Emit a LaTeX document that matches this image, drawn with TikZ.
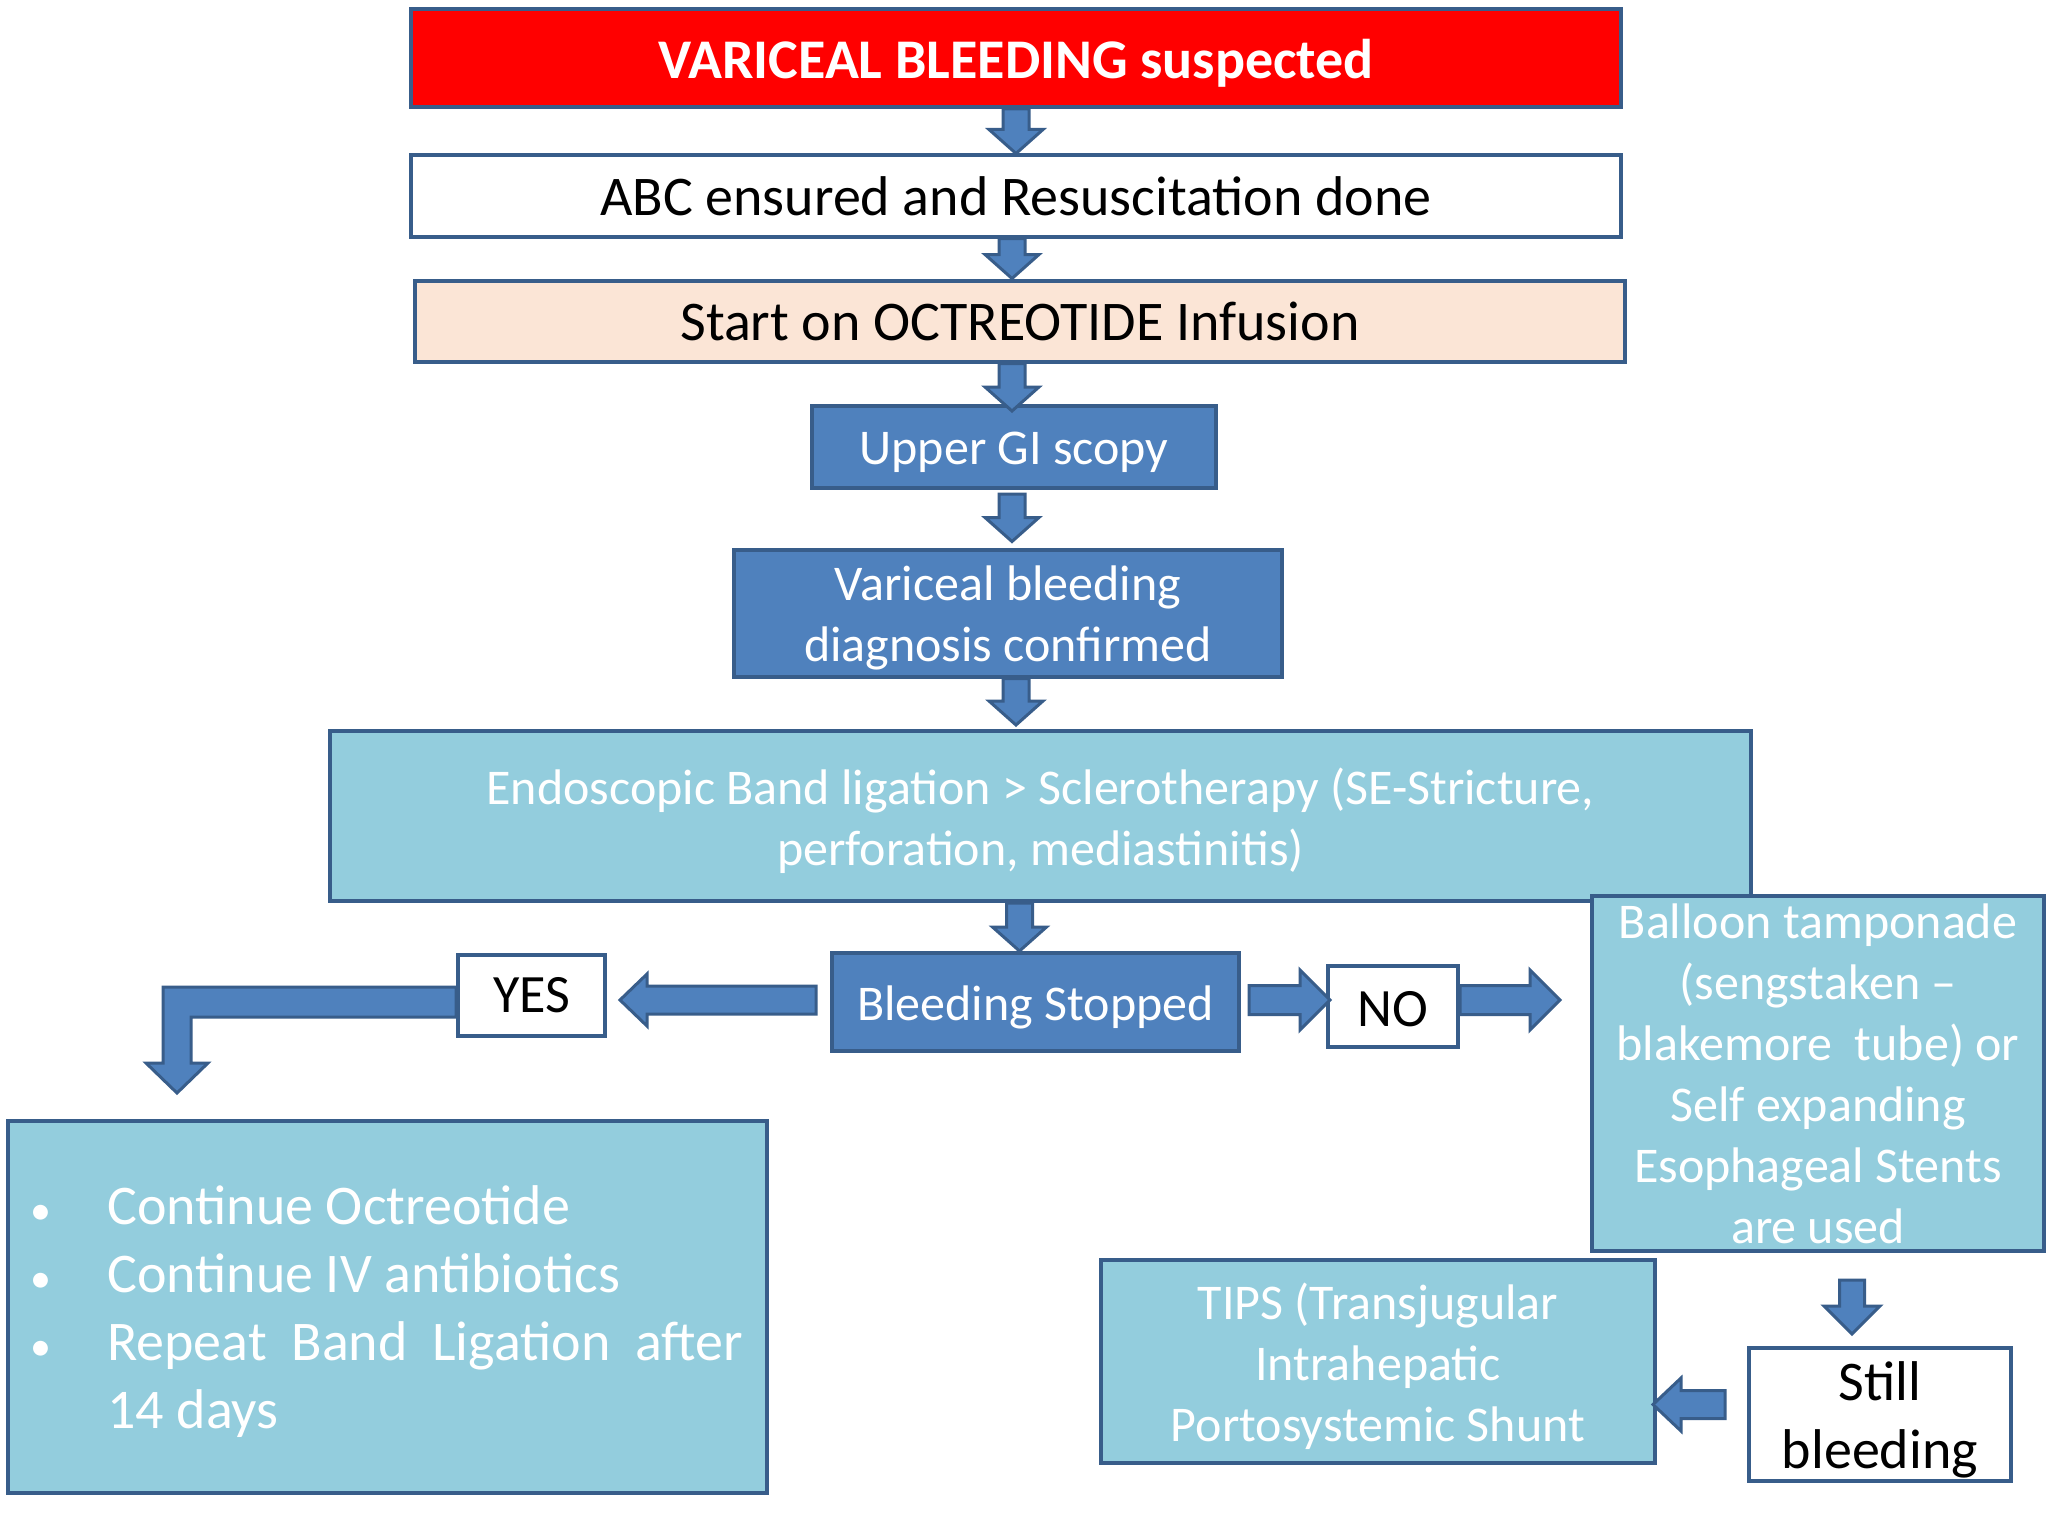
\documentclass[tikz,border=0pt]{standalone}
\usepackage{fontspec}
\setmainfont{Carlito}
\usetikzlibrary{calc}
\definecolor{bdr}{HTML}{385D8A}
\definecolor{blu}{HTML}{4F81BD}
\definecolor{aqua}{HTML}{93CDDD}
\definecolor{peach}{HTML}{FBE5D6}
\definecolor{redf}{HTML}{FF0000}
\tikzset{
  box/.style={draw=bdr, line width=4pt, inner sep=0pt},
  bigtxt/.style={font=\fontsize{56}{68}\selectfont},
  medtxt/.style={font=\fontsize{50}{61}\selectfont},
  yntxt/.style={font=\fontsize{54}{66}\selectfont},
  lt/.style={inner sep=0pt, align=center, yshift=-5pt},
  wlt/.style={lt, text=white, medtxt},
  blt/.style={lt, text=black},
  darkbox/.style={box, fill=blu},
  aquabox/.style={box, fill=aqua},
  whitebox/.style={box, fill=white},
  barr/.style={draw=bdr, fill=blu, line width=3pt, line join=miter},
}
% #1 shaft half width, #2 head half width, #3 head length, #4 start, #5 tip
\newcommand\blockarr[5]{%
  \coordinate (ba-s) at #4;
  \coordinate (ba-e) at #5;
  \coordinate (ba-h) at ($(ba-e)!#3pt!(ba-s)$);
  \draw[barr] ($(ba-s)!#1pt!90:(ba-e)$) -- ($(ba-h)!#1pt!-90:(ba-s)$)
    -- ($(ba-h)!#2pt!-90:(ba-s)$) -- (ba-e) -- ($(ba-h)!#2pt!90:(ba-s)$)
    -- ($(ba-h)!#1pt!90:(ba-s)$) -- ($(ba-s)!#1pt!-90:(ba-e)$) -- cycle;}
\begin{document}
\begin{tikzpicture}[x=1pt,y=-1pt]
\useasboundingbox (0,0) rectangle (2048,1536);
\fill[white] (0,0) rectangle (2048,1536);

% boxes
\node[box, fill=redf, minimum width=1210, minimum height=98,
      label={[name=red-t, lt, text=white, font=\fontsize{56}{68}\selectfont\bfseries]center:VARICEAL BLEEDING suspected}] (red) at (1016,58) {};
\node[whitebox, minimum width=1210, minimum height=81,
      label={[name=abc-t, blt, bigtxt, yshift=5pt]center:ABC ensured and Resuscitation done}] (abc) at (1016,196) {};
\node[box, fill=peach, minimum width=1210, minimum height=81,
      label={[name=oct-t, blt, bigtxt, yshift=5pt]center:Start on OCTREOTIDE Infusion}] (oct) at (1020,321) {};
\node[darkbox, minimum width=404, minimum height=82,
      label={[name=ugi-t, wlt]center:Upper GI scopy}] (ugi) at (1014,447) {};
\node[darkbox, minimum width=548, minimum height=127,
      label={[name=vbd-t, wlt]center:Variceal bleeding\\diagnosis confirmed}] (vbd) at (1008,613) {};
\node[aquabox, minimum width=1421, minimum height=170,
      label={[name=endo-t, wlt]center:Endoscopic Band ligation {>} Sclerotherapy (SE-Stricture,\\perforation, mediastinitis)}] (endo) at (1040.5,816) {};
\node[darkbox, minimum width=407, minimum height=98,
      label={[name=bs-t, wlt]center:Bleeding Stopped}] (bs) at (1035.5,1002) {};
\node[whitebox, minimum width=147, minimum height=81,
      label={[name=yes-t, blt, yntxt, yshift=5pt]center:YES}] (yes) at (531.5,995.5) {};
\node[whitebox, minimum width=130, minimum height=81,
      label={[name=no-t, blt, yntxt, yshift=2pt]center:NO}] (no) at (1393,1006.5) {};
\node[aquabox, minimum width=452, minimum height=355,
      label={[name=balloon-t, wlt, yshift=5pt]center:Balloon tamponade\\(sengstaken --\\blakemore\ \ tube) or\\Self expanding\\Esophageal Stents\\are used}] (balloon) at (1818,1073.5) {};
\node[whitebox, minimum width=262, minimum height=133,
      label={[name=still-t, blt, bigtxt]center:Still\\bleeding}] (still) at (1880,1414.5) {};
\node[aquabox, minimum width=554, minimum height=203,
      label={[name=tips-t, wlt]center:TIPS (Transjugular\\Intrahepatic\\Portosystemic Shunt}] (tips) at (1378,1361.5) {};
\node[box, fill=aqua, minimum width=759, minimum height=372] (list) at (387.5,1307) {};
\node[anchor=west, text=white, inner sep=0pt, bigtxt] (listtxt) at (30,1313)
  {\begin{tabular}{@{}p{77pt}@{}l@{}}
   {\fontsize{42}{68}\selectfont\textbullet} & Continue Octreotide\\
   {\fontsize{42}{68}\selectfont\textbullet} & Continue IV antibiotics\\
   {\fontsize{42}{68}\selectfont\textbullet} & \makebox[636pt][s]{Repeat Band Ligation after}\\
               & 14 days
   \end{tabular}};

% vertical arrows
\blockarr{13}{27}{24}{(red.south)}{(red.south |- abc.north)}
\blockarr{13}{27}{24}{($(abc.south)+(-4,0)$)}{($(abc.south |- oct.north)+(-4,0)$)}
\blockarr{13}{27}{24}{($(ugi.north |- oct.south)+(-2,0)$)}{($(ugi.north)+(-2,7)$)}
\blockarr{13}{27}{24}{($(ugi.south)+(-2,4)$)}{($(ugi.south |- vbd.north)+(-2,-6)$)}
\blockarr{13}{27}{24}{($(vbd.south)+(8,0)$)}{($(vbd.south |- endo.north)+(8,-4)$)}
\blockarr{13}{27}{24}{($(bs.north |- endo.south)+(-16,0)$)}{($(bs.north)+(-16,0)$)}

% horizontal arrows
\blockarr{14}{26}{27}{($(bs.west)+(-14,-2)$)}{($(yes.east |- bs.west)+(13,-2)$)}
\blockarr{14.5}{30}{30}{($(bs.east)+(8,-2)$)}{($(no.west |- bs.east)+(4,-2)$)}
\blockarr{14.5}{30}{30}{($(no.east |- bs.east)+(0,-2)$)}{($(balloon.west |- bs.east)+(-30,-2)$)}

% bent arrow from YES to list
\coordinate (ystart) at (yes.west |- bs.west);
\draw[barr] ($(ystart)+(0,-15)$) -- ++(-293,0) -- ++(0,76) -- ++(-17,0) -- ++(31,30)
  -- ++(31,-30) -- ++(-17,0) -- ++(0,-46) -- ($(ystart)+(0,15)$) -- cycle;

% right side arrows
\blockarr{12.5}{28}{28}{($(still.north)+(-28,-66)$)}{($(still.north)+(-28,-12)$)}
\blockarr{14}{26.5}{28}{($(still.west)+(-22,-10)$)}{($(tips.east |- still.west)+(-4,-10)$)}
\end{tikzpicture}
\end{document}
